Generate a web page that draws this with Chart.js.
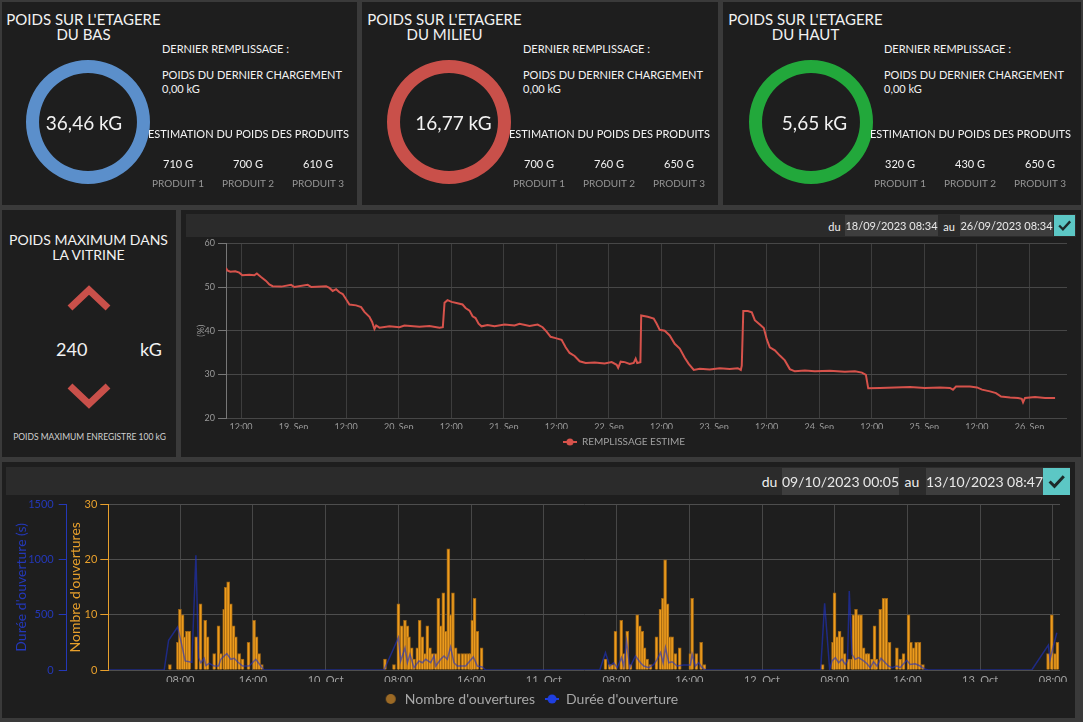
<!DOCTYPE html>
<html><head><meta charset="utf-8">
<script src="https://cdn.jsdelivr.net/npm/chart.js@4.4.0/dist/chart.umd.min.js"></script>
<style>
body{margin:0;width:1083px;height:722px;background:#3a3a3a;position:relative;overflow:hidden;font-family:Lato,'DejaVu Sans',sans-serif;}
.p{position:absolute;background:#1e1e1e;}
.t{position:absolute;white-space:nowrap;line-height:1;color:#f2f2f2;}
canvas{position:absolute;}
.hdr{position:absolute;background:#2b2b2b;}
.box{position:absolute;background:#3e3e3e;color:#e8e8e8;display:flex;align-items:center;justify-content:center;white-space:nowrap;}
.chk{position:absolute;background:#5cc7c5;}
svg{position:absolute;overflow:visible;}
</style></head><body>
<div class="p" style="left:2px;top:2px;width:355px;height:203px"></div>
<div class="p" style="left:362px;top:2px;width:356px;height:203px"></div>
<div class="p" style="left:723px;top:2px;width:358px;height:203px"></div>
<div class="p" style="left:2px;top:210px;width:174px;height:247px"></div>
<div class="p" style="left:181px;top:210px;width:900px;height:247px"></div>
<div class="p" style="left:2px;top:462px;width:1073px;height:256px"></div>

<div class="hdr" style="left:186px;top:214px;width:890px;height:23px"></div>
<div class="hdr" style="left:6px;top:467px;width:1064px;height:28px"></div>

<svg style="left:0;top:0" width="1" height="1">
  <polyline points="70,308 89,290 108,308" fill="none" stroke="#c9504a" stroke-width="7" stroke-linecap="butt" stroke-linejoin="miter"/>
  <polyline points="70,386 89,404 108,386" fill="none" stroke="#c9504a" stroke-width="7" stroke-linecap="butt" stroke-linejoin="miter"/>
</svg>

<canvas id="d0" width="124" height="124" style="left:26px;top:60px"></canvas>
<canvas id="d1" width="124" height="124" style="left:387px;top:60px"></canvas>
<canvas id="d2" width="124" height="124" style="left:749px;top:60px"></canvas>
<canvas id="cFill" width="899" height="222" style="left:181px;top:235px"></canvas>
<canvas id="cOpen" width="1073" height="225" style="left:2px;top:493px"></canvas>

<script>
// ---------- DATA ----------
const shelfLines = ["DU BAS", "DU MILIEU", "DU HAUT"];
const shelfWeights = [36.46, 16.77, 5.65];
const lastLoadWeights = [0.00, 0.00, 0.00];
const productNames = ["PRODUIT 1", "PRODUIT 2", "PRODUIT 3"];
const productWeightsBas = [710, 700, 610];
const productWeightsMilieu = [700, 760, 650];
const productWeightsHaut = [320, 430, 650];
const maxShowcaseWeight = 240;
const maxRecordedWeight = 100;

// fill level (%) vs hours since 18/09/2023 00:00
const fillHours = [8.57,8.87,9.55,10.69,11.61,12.29,13.89,15.04,15.61,16.57,17.71,18.46,19.22,21.21,23.42,24.18,27.22,28.06,31.42,32.18,32.93,33.71,34.46,35.22,35.99,36.75,38.28,39.42,40.17,41.32,41.93,42.46,42.85,43.6,45.89,48.17,49.31,52.74,55.02,57.31,58.07,58.46,59.14,60.06,61.43,62.57,63.26,64.17,64.86,65.54,66.23,66.91,68.28,69.88,72.17,74.45,75.59,77.88,79.71,80.85,81.76,82.68,83.82,85.19,86.11,87.02,88.16,89.31,90.68,92.73,95.02,96.62,97.76,98.1,98.67,99.59,100.73,101.65,102.1,102.45,103.18,103.36,104.85,106.22,106.9,107.59,108.73,109.87,111.01,112.16,113.3,114.21,115.36,116.73,119.01,121.3,123.58,125.41,126.1,126.32,126.67,127.7,128.61,129.3,130.44,131.35,132.04,132.72,133.87,135.01,136.15,137.29,138.44,140.72,143.01,146.44,149.86,152.15,153.75,154.66,155.19,157.86,161.29,164.72,168.14,171.57,173.85,174.54,175.23,178.43,180.03,181.17,183.0,184.37,185.51,187.57,189.4,190.24,190.54,190.99,193.28,195.57,197.85];
const fillValues = [54.4,53.8,53.5,53.6,53.3,52.7,52.8,52.7,53.1,52.3,51.4,50.6,50.2,50.1,50.5,50.0,50.5,50.0,50.2,49.8,49.1,49.5,48.8,48.4,47.2,46.0,45.8,45.4,44.3,43.2,42.0,40.4,41.2,40.7,41.0,40.8,41.2,40.9,41.1,40.7,40.8,46.4,47.0,46.6,46.3,46.0,45.2,44.6,43.3,42.9,41.6,41.0,41.3,41.0,41.4,41.2,41.6,41.1,41.4,40.8,39.8,38.6,38.3,37.9,36.2,34.9,34.2,33.0,32.6,32.7,32.5,32.8,32.2,31.5,32.9,32.8,32.4,32.6,33.6,32.6,32.8,43.5,43.2,42.8,41.6,40.2,40.0,38.9,37.0,35.9,33.8,32.4,31.0,31.3,31.1,31.4,31.2,31.4,31.0,32.0,44.5,44.5,44.2,42.4,41.4,40.6,38.0,36.2,35.5,34.3,33.2,31.2,30.7,30.9,30.7,30.8,30.6,30.7,30.4,29.9,26.8,26.9,27.0,27.1,26.9,27.0,26.9,26.5,27.2,27.2,27.0,26.5,26.1,25.7,24.9,24.7,24.6,24.4,23.6,24.6,24.8,24.6,24.6];
const fillTickHours = [12,24,36,48,60,72,84,96,108,120,132,144,156,168,180,192];
const fillTickLabels = ["12:00","19. Sep","12:00","20. Sep","12:00","21. Sep","12:00","22. Sep","12:00","23. Sep","12:00","24. Sep","12:00","25. Sep","12:00","26. Sep"];
const fillAxisTicks = [20,30,40,50,60];

// openings vs hours since 09/10/2023 00:00
const openHours = [6.86,7.74,7.96,8.25,8.47,8.73,8.98,9.75,10.23,10.74,11.0,11.73,12.21,12.46,12.83,13.01,13.27,13.56,13.86,14.11,14.48,14.85,15.51,16.12,16.39,16.67,16.97,
 30.52,31.51,32.0,32.36,32.72,32.99,33.16,33.46,33.71,34.08,34.34,34.63,34.92,35.18,35.47,35.73,36.1,36.39,36.65,36.94,37.2,37.49,37.74,38.0,38.29,38.66,39.06,39.39,39.72,39.94,40.13,40.38,40.68,41.15,
 54.78,55.25,55.52,55.88,56.51,56.79,57.17,57.53,58.27,58.55,58.82,59.07,59.36,59.73,60.39,60.83,61.1,61.34,61.6,61.85,62.11,62.47,62.95,64.12,64.31,64.78,65.3,65.66,
 78.67,79.81,79.98,80.25,80.53,80.8,81.08,81.52,81.9,82.07,82.34,82.62,82.89,83.17,83.47,83.72,84.1,84.38,84.57,85.01,85.37,85.67,86.03,86.84,87.2,87.57,88.12,88.38,88.67,88.96,89.32,89.7,
 103.47,103.88,104.24,104.5];
const openCounts = [1,5,11,10,6,7,7,6,12,9,6,3,8,3,11,15,16,12,8,6,3,2,5,9,6,3,1,
 2,1,12,8,9,8,6,4,2,4,9,6,3,8,4,3,3,13,8,14,7,22,10,14,4,3,3,3,3,3,9,13,7,4,
 2,1,1,7,9,3,7,1,10,8,7,4,2,1,6,11,13,20,12,6,6,3,4,3,13,3,5,1,
 1,5,14,6,7,6,3,2,2,10,11,10,10,4,3,3,2,8,2,11,13,13,5,4,2,3,10,5,4,5,5,1,
 3,10,3,5];
const durHours = [0.08,6.23,6.72,7.7,8.07,8.54,8.98,9.28,9.72,10.01,10.27,10.63,10.82,11.18,11.73,12.21,12.46,12.83,13.12,13.56,13.93,14.3,14.85,15.57,16.31,16.86,17.22,
 30.41,32.0,32.25,32.72,32.99,33.27,33.71,34.26,34.63,35.0,35.55,35.91,36.1,36.65,37.01,37.38,37.74,38.11,38.48,39.39,40.24,40.68,41.23,41.59,
 54.15,54.78,55.25,55.69,56.07,56.54,56.79,57.09,57.45,58.08,58.63,58.99,59.54,60.09,60.46,60.83,61.12,61.38,61.74,62.11,62.66,63.39,64.12,64.31,64.67,65.04,65.41,65.79,
 78.45,78.89,79.44,79.7,80.07,80.43,80.8,81.16,81.41,81.6,81.9,82.26,82.63,83.18,83.55,83.91,84.27,84.65,85.09,85.37,85.92,86.29,86.84,87.2,87.51,87.94,88.3,88.85,89.4,89.95,90.3,
 101.68,103.5,103.69,104.43];
const durSeconds = [0,0,270,390,262,82,75,70,1040,112,66,106,40,60,36,36,97,127,148,97,106,75,36,36,97,36,0,
 0,293,82,200,66,142,21,82,66,97,66,127,36,97,127,97,209,66,36,36,118,36,27,0,
 0,157,36,66,21,112,36,263,21,127,66,36,21,51,97,157,66,203,66,75,36,45,45,142,36,66,21,0,
 0,604,6,82,112,66,97,51,82,716,142,97,112,82,57,21,75,36,106,82,36,21,36,21,51,88,51,57,36,6,0,
 0,226,97,338];
const openTickHours = [8,16,24,32,40,48,56,64,72,80,88,96,104];
const openTickLabels = ["08:00","16:00","10. Oct","08:00","16:00","11. Oct","08:00","16:00","12. Oct","08:00","16:00","13. Oct","08:00"];
const countAxisTicks = [0,10,20,30];
const durationAxisTicks = [0,500,1000,1500];

// ---------- LAYOUT / STYLE ----------
const F = "Lato, 'DejaVu Sans', sans-serif";
Chart.defaults.font.family = F;
const ringColors = ['#5b8fcb', '#c9504a', '#22a83b'];
function txt(x, y, s, size, color, align) {
  const d = document.createElement('div');
  d.className = 't'; d.textContent = s;
  d.style.fontSize = size + 'px'; d.style.left = x + 'px'; d.style.top = y + 'px';
  if (color) d.style.color = color;
  const tx = align === 'center' ? '-50%' : align === 'right' ? '-100%' : '0';
  d.style.transform = `translate(${tx},-50%)`;
  document.body.appendChild(d); return d;
}
const fmtKg = v => v.toFixed(2).replace('.', ',') + ' kG';
const panelDx = [0, 361, 722];
const valueCx = [84, 453.5, 814.5];
const productSets = [productWeightsBas, productWeightsMilieu, productWeightsHaut];
for (let i = 0; i < 3; i++) {
  const dx = panelDx[i];
  txt(83.5 + dx, 19, "POIDS SUR L'ETAGERE", 15, null, 'center');
  txt(83.5 + dx, 34, shelfLines[i], 15, null, 'center');
  txt(162 + dx, 48, "DERNIER REMPLISSAGE :", 11);
  txt(162 + dx, 74, "POIDS DU DERNIER CHARGEMENT", 11);
  txt(162 + dx, 88, fmtKg(lastLoadWeights[i]), 11);
  txt(valueCx[i], 122, fmtKg(shelfWeights[i]), 19, null, 'center');
  txt(148 + dx, 133, "ESTIMATION DU POIDS DES PRODUITS", 11);
  for (let k = 0; k < 3; k++) {
    txt(178 + 70 * k + dx, 163, productSets[i][k] + ' G', 11, null, 'center');
    txt(178 + 70 * k + dx, 183, productNames[k], 10, '#969696', 'center');
  }
  new Chart(document.getElementById('d' + i), {
    type: 'doughnut',
    data: { labels: [shelfLines[i]], datasets: [{ data: [shelfWeights[i]], backgroundColor: [ringColors[i]], borderWidth: 0 }] },
    options: { responsive: false, animation: false, events: [], cutout: '79%',
      plugins: { legend: { display: false }, tooltip: { enabled: false } } }
  });
}
txt(88.5, 240, "POIDS MAXIMUM DANS", 14, null, 'center');
txt(88.5, 255, "LA VITRINE", 14, null, 'center');
txt(56, 349, String(maxShowcaseWeight), 18);
txt(140, 349, "kG", 18);
txt(89.5, 437, "POIDS MAXIMUM ENREGISTRE " + maxRecordedWeight + " kG", 8.5, '#d0d0d0', 'center');

// headers
function header(y, h, fs, duX, b1, auX, b2, ck, d1, d2) {
  txt(duX, y + h / 2, 'du', fs, '#f0f0f0', 'center');
  txt(auX, y + h / 2, 'au', fs, '#f0f0f0', 'center');
  for (const [bx, bw, s] of [[b1[0], b1[1], d1], [b2[0], b2[1], d2]]) {
    const b = document.createElement('div'); b.className = 'box';
    b.style.cssText += `left:${bx}px;top:${y}px;width:${bw}px;height:${h}px;font-size:${fs}px`;
    b.textContent = s; document.body.appendChild(b);
  }
  const c = document.createElement('div'); c.className = 'chk';
  c.style.cssText += `left:${ck[0]}px;top:${y}px;width:${ck[1]}px;height:${h}px`;
  const s = h * 0.3;
  c.innerHTML = `<svg style="left:0;top:0" width="${ck[1]}" height="${h}"><polyline points="${ck[1]/2 - s*0.85},${h/2} ${ck[1]/2 - s*0.25},${h/2 + s*0.6} ${ck[1]/2 + s*0.9},${h/2 - s*0.65}" fill="none" stroke="#1d2a2a" stroke-width="${h*0.11}"/></svg>`;
  document.body.appendChild(c);
}
header(215, 21, 11, 834.5, [845, 93], 949, [960, 93], [1054, 21], '18/09/2023 08:34', '26/09/2023 08:34');
header(468, 27, 14, 769.5, [782, 117], 912, [926, 117], [1043, 27], '09/10/2023 00:05', '13/10/2023 08:47');

// legend marker images
function marker(w, h, color, withLine, r) {
  const c = document.createElement('canvas'); c.width = w; c.height = h;
  const g = c.getContext('2d');
  if (withLine) { g.strokeStyle = color; g.lineWidth = 2; g.beginPath(); g.moveTo(0, h / 2); g.lineTo(w, h / 2); g.stroke(); }
  g.fillStyle = color; g.beginPath(); g.arc(w / 2, h / 2, r, 0, Math.PI * 2); g.fill();
  return c;
}
function legendWith(markers) {
  return chart => {
    const items = Chart.defaults.plugins.legend.labels.generateLabels(chart);
    items.forEach(it => { it.pointStyle = markers[it.datasetIndex]; });
    return items.sort((a, b) => a.datasetIndex - b.datasetIndex);
  };
}
const setTicks = arr => s => { s.ticks = arr.map(v => ({ value: v })); };

// fill chart
new Chart(document.getElementById('cFill'), {
  type: 'line',
  data: { datasets: [{ label: 'REMPLISSAGE ESTIME', data: fillHours.map((h, i) => ({ x: h, y: fillValues[i] })),
    borderColor: '#d6524b', backgroundColor: '#d6524b', borderWidth: 2, pointRadius: 0, tension: 0 }] },
  options: { responsive: false, animation: false, events: [],
    layout: { padding: { top: 4, right: 13, bottom: 0, left: 0 } },
    scales: {
      x: { type: 'linear', min: 8.57, max: 200.57,
        afterBuildTicks: setTicks(fillTickHours),
        ticks: { autoSkip: false, maxRotation: 0, color: '#9a9a9a', font: { size: 9 }, padding: 4,
          callback: v => fillTickLabels[fillTickHours.indexOf(v)] },
        grid: { color: '#3d3d3d', drawTicks: false }, border: { display: false },
        afterFit: s => { s.height = 11; } },
      y: { min: 20, max: 60, afterBuildTicks: setTicks(fillAxisTicks),
        ticks: { autoSkip: false, color: '#9a9a9a', font: { size: 9 }, padding: 3 },
        title: { display: true, text: '(%)', color: '#9a9a9a', font: { size: 9 }, padding: { top: 15, bottom: 0 } },
        grid: { color: '#474747', tickColor: '#777', tickLength: 8 }, border: { color: '#777' },
        afterFit: s => { s.width = 45; } }
    },
    plugins: { tooltip: { enabled: false },
      legend: { position: 'bottom', labels: { color: '#a0a0a0', font: { size: 10 }, usePointStyle: true, pointStyleWidth: 14, boxHeight: 8, padding: 8,
        generateLabels: legendWith([marker(14, 8, '#d6524b', true, 3.5)]) } } }
  }
});

// openings chart
new Chart(document.getElementById('cOpen'), {
  type: 'bar',
  data: { datasets: [
    { type: 'bar', label: "Nombre d'ouvertures", data: openHours.map((h, i) => ({ x: h, y: openCounts[i] })),
      backgroundColor: 'rgba(247,163,30,0.92)', borderColor: 'rgba(165,105,20,0.95)', borderWidth: 1,
      barThickness: 3, yAxisID: 'y', order: 2 },
    { type: 'line', label: "Durée d'ouverture", data: durHours.map((h, i) => ({ x: h, y: durSeconds[i] })),
      borderColor: 'rgba(30,50,200,0.6)', backgroundColor: '#1f3fe0', borderWidth: 1.5, pointRadius: 0, tension: 0,
      yAxisID: 'y1', order: 1 }
  ] },
  options: { responsive: false, animation: false, events: [],
    layout: { padding: { top: 6, right: 15, bottom: 2, left: 0 } },
    scales: {
      x: { type: 'linear', min: 0.0833, max: 104.783, offset: false,
        afterBuildTicks: setTicks(openTickHours),
        ticks: { autoSkip: false, maxRotation: 0, color: '#a0a0a0', font: { size: 11 }, padding: 4,
          callback: v => openTickLabels[openTickHours.indexOf(v)] },
        grid: { color: '#474747', drawTicks: false, offset: false }, border: { display: false },
        afterFit: s => { s.height = 12; } },
      y: { position: 'left', weight: 0, min: 0, max: 30, afterBuildTicks: setTicks(countAxisTicks),
        ticks: { autoSkip: false, color: '#e8a02c', font: { size: 11 }, padding: 3, callback: v => String(v) },
        title: { display: true, text: "Nombre d'ouvertures", color: '#e8a02c', font: { size: 14 }, padding: { top: 0, bottom: 0 } },
        grid: { color: '#4e4e4e', tickColor: '#e8a02c', tickLength: 8 }, border: { color: '#e8a02c' },
        afterFit: s => { s.width = 41.6; } },
      y1: { position: 'left', weight: 1, min: 0, max: 1500, afterBuildTicks: setTicks(durationAxisTicks),
        ticks: { autoSkip: false, color: '#2438b8', font: { size: 11 }, padding: 5, callback: v => String(v) },
        title: { display: true, text: "Durée d'ouverture (s)", color: '#2438b8', font: { size: 14 }, padding: { top: 11, bottom: 0 } },
        grid: { drawOnChartArea: false, tickColor: '#2438b8', tickLength: 8 }, border: { color: '#2438b8' },
        afterFit: s => { s.width = 64.7; } }
    },
    plugins: { tooltip: { enabled: false },
      legend: { position: 'bottom', labels: { color: '#a8a8a8', font: { size: 14 }, usePointStyle: true, pointStyleWidth: 14, boxHeight: 10, padding: 10,
        generateLabels: legendWith([marker(12, 12, '#9c6a25', false, 5), marker(14, 10, '#1f3fe0', true, 4.5)]) } } }
  }
});
</script>
</body></html>
